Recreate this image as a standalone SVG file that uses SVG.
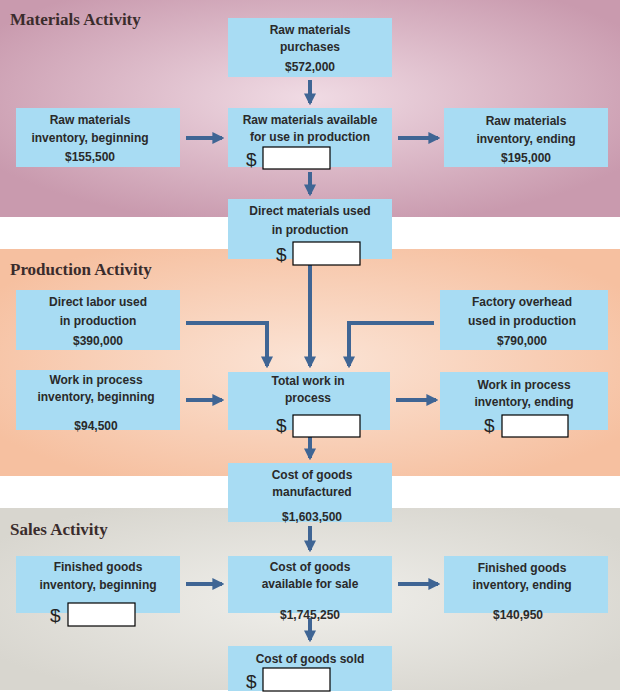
<svg xmlns="http://www.w3.org/2000/svg" width="620" height="698" viewBox="0 0 620 698">
<defs>
<radialGradient id="gm" cx="0.5" cy="0.45" r="0.6"><stop offset="0" stop-color="#f0dbe4"/><stop offset="1" stop-color="#c99aae"/></radialGradient>
<radialGradient id="gp" cx="0.5" cy="0.5" r="0.6"><stop offset="0" stop-color="#fbe4d6"/><stop offset="1" stop-color="#f6c0a0"/></radialGradient>
<radialGradient id="gs" cx="0.5" cy="0.5" r="0.6"><stop offset="0" stop-color="#f0efeb"/><stop offset="1" stop-color="#d8d6cf"/></radialGradient>
<marker id="ah" viewBox="0 0 10 10" refX="8" refY="5" markerWidth="3" markerHeight="3" orient="auto" markerUnits="strokeWidth"><path d="M0,0 L10,5 L0,10 z" fill="#3f6594"/></marker>
<style>
.b{fill:#a8dcf3}
.t{font-family:"Liberation Sans",Arial,sans-serif;font-weight:bold;font-size:12px;fill:#2a2a2a;text-anchor:middle}
.h{font-family:"Liberation Serif","Times New Roman",serif;font-weight:bold;font-size:17px;fill:#3a2c2c}
.d{font-family:"Liberation Sans",Arial,sans-serif;font-size:19px;fill:#222}
.in{fill:#fff;stroke:#000;stroke-width:1.2}
.c{fill:none;stroke:#3f6594;stroke-width:4;marker-end:url(#ah)}
</style>
</defs>
<rect width="620" height="698" fill="#fff"/>
<rect x="0" y="0" width="620" height="217" fill="url(#gm)"/>
<rect x="0" y="249" width="620" height="227" fill="url(#gp)"/>
<rect x="0" y="508" width="620" height="182" fill="url(#gs)"/>
<text class="h" x="10" y="25">Materials Activity</text>
<text class="h" x="10" y="275">Production Activity</text>
<text class="h" x="10" y="535">Sales Activity</text>
<g id="connectors">
<line class="c" x1="310" y1="80" x2="310" y2="103"/>
<line class="c" x1="186" y1="138" x2="222" y2="138"/>
<line class="c" x1="398" y1="138" x2="438" y2="138"/>
<line class="c" x1="310" y1="172" x2="310" y2="194"/>
<line class="c" x1="310" y1="262" x2="310" y2="366"/>
<polyline class="c" points="186,323 267,323 267,366"/>
<polyline class="c" points="434,323 349,323 349,366"/>
<line class="c" x1="186" y1="400" x2="222" y2="400"/>
<line class="c" x1="396" y1="400" x2="436" y2="400"/>
<line class="c" x1="310" y1="437" x2="310" y2="458"/>
<line class="c" x1="310" y1="526" x2="310" y2="550"/>
<line class="c" x1="186" y1="584" x2="222" y2="584"/>
<line class="c" x1="398" y1="584" x2="438" y2="584"/>
<line class="c" x1="310" y1="618" x2="310" y2="640"/>
</g>
<g id="rm-purchases"><rect class="b" x="228" y="18" width="164" height="59"/><text class="t" x="310" y="34">Raw materials</text><text class="t" x="310" y="51">purchases</text><text class="t" x="310" y="71">$572,000</text></g>
<g id="rm-begin"><rect class="b" x="16" y="108" width="164" height="59"/><text class="t" x="90" y="124">Raw materials</text><text class="t" x="90" y="142">inventory, beginning</text><text class="t" x="90" y="161">$155,500</text></g>
<g id="rm-available"><rect class="b" x="228" y="108" width="164" height="59"/><text class="t" x="310" y="124">Raw materials available</text><text class="t" x="310" y="141">for use in production</text><text class="d" x="246" y="166">$</text><rect class="in" x="263" y="147" width="67" height="22"/></g>
<g id="rm-end"><rect class="b" x="444" y="108" width="164" height="59"/><text class="t" x="526" y="125">Raw materials</text><text class="t" x="526" y="143">inventory, ending</text><text class="t" x="526" y="162">$195,000</text></g>
<g id="dm-used"><rect class="b" x="228" y="199" width="164" height="60"/><text class="t" x="310" y="215">Direct materials used</text><text class="t" x="310" y="234">in production</text><text class="d" x="276" y="261">$</text><rect class="in" x="293" y="242" width="67" height="23"/></g>
<g id="dl-used"><rect class="b" x="16" y="290" width="164" height="60"/><text class="t" x="98" y="306">Direct labor used</text><text class="t" x="98" y="325">in production</text><text class="t" x="98" y="345">$390,000</text></g>
<g id="foh-used"><rect class="b" x="440" y="290" width="168" height="60"/><text class="t" x="522" y="306">Factory overhead</text><text class="t" x="522" y="325">used in production</text><text class="t" x="522" y="345">$790,000</text></g>
<g id="wip-begin"><rect class="b" x="16" y="370" width="164" height="60"/><text class="t" x="96" y="384">Work in process</text><text class="t" x="96" y="401">inventory, beginning</text><text class="t" x="96" y="430">$94,500</text></g>
<g id="total-wip"><rect class="b" x="228" y="372" width="162" height="58"/><text class="t" x="308" y="385">Total work in</text><text class="t" x="308" y="402">process</text><text class="d" x="276" y="432">$</text><rect class="in" x="293" y="415" width="67" height="22"/></g>
<g id="wip-end"><rect class="b" x="440" y="372" width="168" height="58"/><text class="t" x="524" y="389">Work in process</text><text class="t" x="524" y="406">inventory, ending</text><text class="d" x="484" y="432">$</text><rect class="in" x="502" y="415" width="66" height="22"/></g>
<g id="cogm"><rect class="b" x="228" y="463" width="164" height="59"/><text class="t" x="312" y="479">Cost of goods</text><text class="t" x="312" y="496">manufactured</text><text class="t" x="312" y="521">$1,603,500</text></g>
<g id="fg-begin"><rect class="b" x="16" y="556" width="164" height="57"/><text class="t" x="98" y="571">Finished goods</text><text class="t" x="98" y="589">inventory, beginning</text><text class="d" x="50" y="622">$</text><rect class="in" x="68" y="603" width="67" height="23"/></g>
<g id="cogas"><rect class="b" x="228" y="556" width="164" height="57"/><text class="t" x="310" y="571">Cost of goods</text><text class="t" x="310" y="588">available for sale</text><text class="t" x="310" y="619">$1,745,250</text></g>
<g id="fg-end"><rect class="b" x="444" y="556" width="164" height="57"/><text class="t" x="522" y="572">Finished goods</text><text class="t" x="522" y="589">inventory, ending</text><text class="t" x="518" y="619">$140,950</text></g>
<g id="cogs"><rect class="b" x="228" y="646" width="164" height="45"/><text class="t" x="310" y="663">Cost of goods sold</text><text class="d" x="246" y="688">$</text><rect class="in" x="263" y="668" width="67" height="23"/></g>
</svg>
